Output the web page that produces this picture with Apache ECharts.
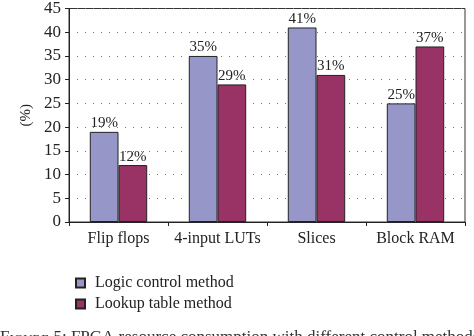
<!DOCTYPE html>
<html>
<head>
<meta charset="utf-8">
<script src="https://cdn.jsdelivr.net/npm/echarts@6/dist/echarts.min.js"></script>
<style>html,body{margin:0;padding:0;background:#fff}#c{width:474px;height:336px}</style>
</head>
<body>
<div id="c"></div>
<script>
const categories = ['Flip flops', '4-input LUTs', 'Slices', 'Block RAM'];
const logicControl = [19, 35, 41, 25];
const lookupTable = [12, 29, 31, 37];
const seriesNames = ['Logic control method', 'Lookup table method'];
const yTicks = { min: 0, max: 45, interval: 5 };
const captionLead = ['F', 'IGURE'];
const captionRest = ' 5: FPGA resource consumption with different control methods.';

const font = '"Liberation Serif", "DejaVu Serif", serif';
const chart = echarts.init(document.getElementById('c'), null, { renderer: 'canvas' });
const label = {
  show: true, position: 'top', distance: 1, formatter: p => p.value + '%',
  fontFamily: font, fontSize: 15, color: '#222'
};
chart.setOption({
  animation: false,
  textStyle: { fontFamily: font },
  grid: { left: 69, right: 9, top: 5, bottom: 114, show: true, borderColor: '#333', borderWidth: 1 },
  xAxis: {
    type: 'category', data: categories,
    axisLine: { lineStyle: { color: '#222', width: 1 } },
    axisTick: { show: true, length: 4, lineStyle: { color: '#222' } },
    axisLabel: { interval: 0, fontFamily: font, fontSize: 16, color: '#222', margin: 9 }
  },
  yAxis: {
    type: 'value', min: yTicks.min, max: yTicks.max, interval: yTicks.interval,
    name: '(%)', nameLocation: 'middle', nameGap: 35, nameRotate: 90,
    nameTextStyle: { fontFamily: font, fontSize: 15, color: '#222' },
    axisLine: { show: true, lineStyle: { color: '#222' } },
    axisTick: { show: true, length: 4, lineStyle: { color: '#222' } },
    axisLabel: { fontFamily: font, fontSize: 17, color: '#222', margin: 8 },
    splitLine: { show: true, lineStyle: { type: [1, 7], color: '#777', width: 1 } }
  },
  legend: {
    orient: 'vertical', left: 70, top: 270, itemWidth: 9, itemHeight: 9, itemGap: 5,
    icon: 'rect',
    textStyle: { fontFamily: font, fontSize: 16, color: '#222', padding: [0, 0, 0, 5] },
    data: seriesNames
  },
  series: [
    { name: seriesNames[0], type: 'bar', data: logicControl, barGap: '0%', barCategoryGap: '42%',
      itemStyle: { color: '#9696c8', borderColor: '#222', borderWidth: 1 }, label },
    { name: seriesNames[1], type: 'bar', data: lookupTable,
      itemStyle: { color: '#993366', borderColor: '#222', borderWidth: 1 }, label }
  ],
  graphic: [{
    type: 'text', left: 0, top: 329,
    style: {
      text: '{a|' + captionLead[0] + '}{b|' + captionLead[1] + '}{a|' + captionRest + '}',
      rich: {
        a: { fontFamily: font, fontSize: 17, fill: '#333', verticalAlign: 'bottom' },
        b: { fontFamily: font, fontSize: 13, fill: '#333', verticalAlign: 'bottom' }
      }
    }
  }]
});
</script>
</body>
</html>
